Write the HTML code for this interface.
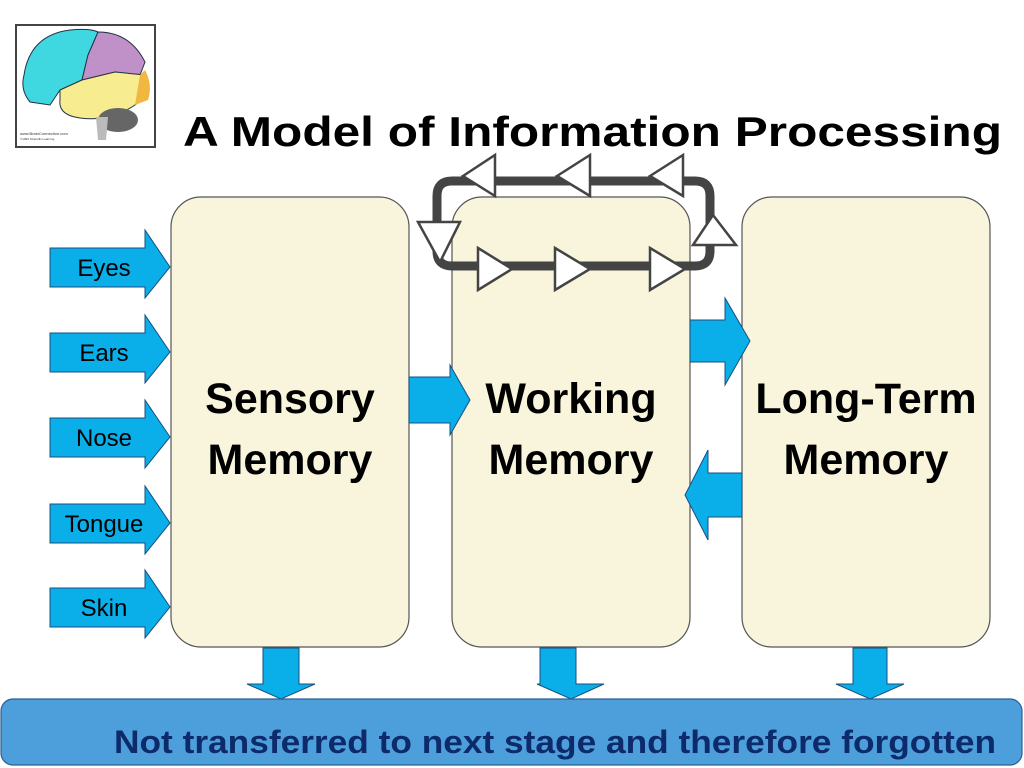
<!DOCTYPE html>
<html><head><style>body{margin:0;background:#fff}svg{display:block}</style></head><body>
<svg width="1024" height="768" viewBox="0 0 1024 768" xmlns="http://www.w3.org/2000/svg" font-family="Liberation Sans, sans-serif">
<rect width="1024" height="768" fill="#fff"/>
<!-- brain -->
<rect x="16" y="25" width="139" height="122" fill="#fff" stroke="#444" stroke-width="2"/>
<path d="M24 75 Q30 35 70 30 Q90 28 98 32 L88 55 L82 80 L60 90 L50 105 L30 102 Q20 90 24 75Z" fill="#40d8e0" stroke="#234" stroke-width="1"/>
<path d="M98 32 Q130 32 145 62 L140 75 L115 72 L82 80 L88 55Z" fill="#c090c8" stroke="#234" stroke-width="1"/>
<path d="M82 80 L115 72 L145 75 Q150 95 135 105 Q110 122 80 118 Q58 115 60 100 L60 90Z" fill="#f7ec90" stroke="#234" stroke-width="1"/>
<path d="M145 70 Q153 85 148 100 L135 105 L140 75Z" fill="#f0b840"/>
<ellipse cx="118" cy="120" rx="20" ry="12" fill="#666"/>
<path d="M96 117 L108 117 L106 140 L98 140Z" fill="#bbb"/>
<text x="20" y="135" font-size="4" fill="#333">www.BrainConnection.com</text>
<text x="20" y="140" font-size="3" fill="#333">©1999 Scientific Learning</text>
<!-- title -->
<text x="183" y="146" font-size="42" font-weight="bold" fill="#000" textLength="819" lengthAdjust="spacingAndGlyphs">A Model of Information Processing</text>
<!-- boxes -->
<g fill="#f8f5dc" stroke="#555" stroke-width="1.2">
<rect x="171" y="197" width="238" height="450" rx="30"/>
<rect x="452" y="197" width="238" height="450" rx="30"/>
<rect x="742" y="197" width="248" height="450" rx="30"/>
</g>
<g font-size="43" font-weight="bold" text-anchor="middle" fill="#000">
<text x="290" y="413">Sensory</text><text x="290" y="474">Memory</text>
<text x="571" y="413">Working</text><text x="571" y="474">Memory</text>
<text x="866" y="413">Long-Term</text><text x="866" y="474">Memory</text>
</g>
<!-- loop -->
<path d="M452 181 H695 Q710 181 710 196 V251 Q710 266 695 266 H452 Q437 266 437 251 V196 Q437 181 452 181Z" fill="none" stroke="#444" stroke-width="9"/>
<g fill="#fff" stroke="#444" stroke-width="2.5" stroke-linejoin="miter">
<polygon points="463,176 495,155 495,196"/>
<polygon points="557,176 590,155 590,196"/>
<polygon points="650,176 683,155 683,196"/>
<polygon points="478,248 512,269 478,290"/>
<polygon points="555,248 590,269 555,290"/>
<polygon points="650,248 685,269 650,290"/>
<polygon points="418,222 460,222 440,262"/>
<polygon points="693,245 736,245 713,215"/>
</g>
<!-- arrows -->
<g fill="#0aaee8" stroke="#1a4f80" stroke-width="1">
<polygon points="50,248 145,248 145,230 170,267 145,298 145,287 50,287"/>
<polygon points="50,333 145,333 145,315 170,352 145,383 145,372 50,372"/>
<polygon points="50,418 145,418 145,400 170,437 145,468 145,457 50,457"/>
<polygon points="50,504 145,504 145,486 170,523 145,554 145,543 50,543"/>
<polygon points="50,588 145,588 145,570 170,607 145,638 145,627 50,627"/>
<polygon points="409,377 450,377 450,365 470,400 450,435 450,423 409,423"/>
<polygon points="690,320 725,320 725,298 750,341 725,385 725,362 690,362"/>
<polygon points="742,473 708,473 708,450 685,495 708,540 708,517 742,517"/>
<polygon points="263,648 299,648 299,684 315,684 281,699 247,684 263,684"/>
<polygon points="540,648 576,648 576,684 604,684 571,699 537,684 540,684"/>
<polygon points="853,648 887,648 887,684 904,684 870,699 836,684 853,684"/>
</g>
<g font-size="24" fill="#000" text-anchor="middle">
<text x="104" y="276">Eyes</text>
<text x="104" y="361">Ears</text>
<text x="104" y="446">Nose</text>
<text x="104" y="532">Tongue</text>
<text x="104" y="616">Skin</text>
</g>
<!-- bottom -->
<rect x="1" y="699" width="1021" height="66" rx="12" fill="#4d9fdc" stroke="#2a5f90" stroke-width="1.2"/>
<text x="555" y="753" font-size="32" font-weight="bold" fill="#0d2a6a" text-anchor="middle" textLength="882" lengthAdjust="spacingAndGlyphs">Not transferred to next stage and therefore forgotten</text>
</svg>
</body></html>
